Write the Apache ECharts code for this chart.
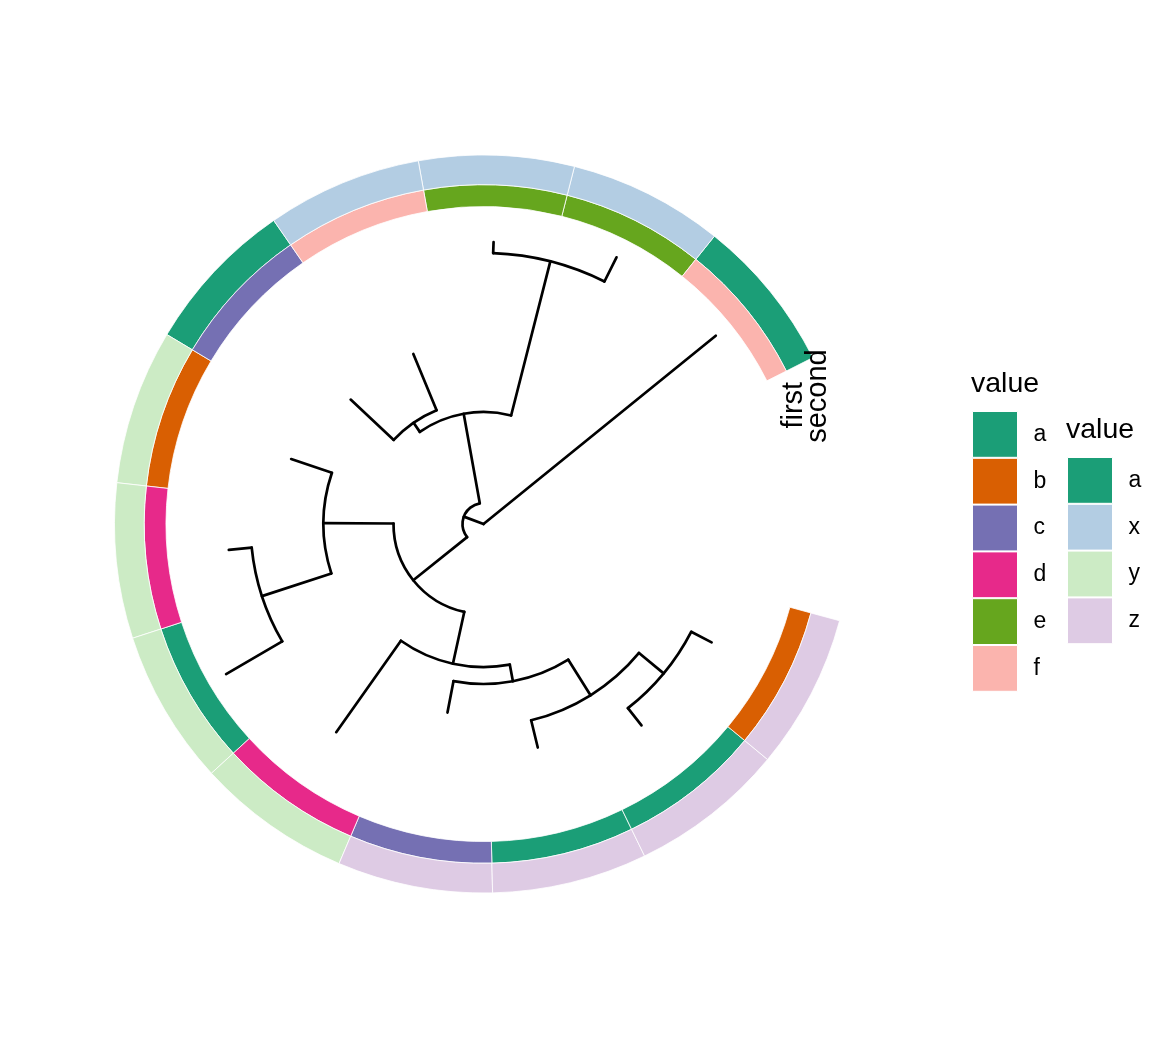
<!DOCTYPE html>
<html>
<head>
<meta charset="utf-8">
<script src="https://cdn.jsdelivr.net/npm/echarts@6/dist/echarts.min.js"></script>
<style>
html, body { margin: 0; padding: 0; background: #fff; }
#chart { width: 1152px; height: 1056px; }
</style>
</head>
<body>
<div id="chart"></div>
<script>
// tree: one entry per edge, parent -> child, with branch length
var edgeParent = ['root','root','n1','n1','n2','n2','n3','n3','n4','n4','n5','n5','n6','n6','n7','n7','n9','n9','n10','n10','n11','n11','n12','n12'];
var edgeChild  = ['n1','t1','n2','n5','n3','n4','t2','t3','t4','t5','n6','n9','t6','n7','t7','t8','t9','n10','t10','n11','t11','n12','t12','t13'];
var edgeLength = [0.21,2.99,0.91,0.69,1.59,0.11,0.27,0.11,0.61,0.59,0.70,0.53,0.43,0.73,0.23,0.65,1.12,0.17,0.32,0.42,0.28,0.32,0.22,0.23];

// tips in plotting order
var tipOrder = ['t1','t2','t3','t4','t5','t6','t7','t8','t9','t10','t11','t12','t13'];

// heatmap columns, one value per tip
var columnNames  = ['first', 'second'];
var firstValues  = ['f','e','e','f','c','b','d','a','d','c','a','a','b'];
var secondValues = ['a','x','x','x','a','y','y','y','y','z','z','z','z'];
var firstLevels  = ['a','b','c','d','e','f'];
var secondLevels = ['a','x','y','z'];

var levelColors = {
    a: '#1B9E77', b: '#D95F02', c: '#7570B3', d: '#E7298A', e: '#66A61E', f: '#FBB4AE',
    x: '#B3CDE3', y: '#CCEBC5', z: '#DECBE4'
};

var FONT = "'Liberation Sans', Arial, Helvetica, sans-serif";
var OPEN_ANGLE = 42;                 // degrees left open on the right
var ringEdges = [3.175, 3.393, 3.69]; // radial bounds of the two heatmap rings
var angleSpan = tipOrder.length / (1 - OPEN_ANGLE / 360);

// layout the tree (rectangular coords -> polar later)
var kids = {}, depth = { root: 0 }, theta = {};
edgeChild.forEach(function (c, i) {
    var p = edgeParent[i];
    (kids[p] = kids[p] || []).push(c);
    depth[c] = depth[p] + edgeLength[i];
});
function getTheta(n) {
    if (theta[n] !== undefined) return theta[n];
    var ti = tipOrder.indexOf(n);
    if (ti >= 0) return (theta[n] = ti + 1);
    var s = 0;
    kids[n].forEach(function (k) { s += getTheta(k); });
    return (theta[n] = s / kids[n].length);
}
getTheta('root');

function screenAngle(cs, pt) {
    return Math.atan2(pt[1] - cs.cy, pt[0] - cs.cx);
}
function pxRadius(cs, pt) {
    return Math.sqrt(Math.pow(pt[0] - cs.cx, 2) + Math.pow(pt[1] - cs.cy, 2));
}
// angles for going clockwise on screen from theta hi to theta lo
function arcAngles(cs, api, r, lo, hi) {
    var a1 = screenAngle(cs, api.coord([r, hi]));
    var a2 = screenAngle(cs, api.coord([r, lo]));
    while (a2 < a1) a2 += Math.PI * 2;
    return [a1, a2];
}

var lineStyle = { stroke: '#000', lineWidth: 2.7, lineCap: 'round', fill: null };

function renderEdge(params, api) {
    var i = params.dataIndex;
    var cs = params.coordSys;
    var c = edgeChild[i], p = edgeParent[i];
    var children = [];
    var a = api.coord([depth[p], theta[c]]);
    var b = api.coord([depth[c], theta[c]]);
    children.push({ type: 'line', shape: { x1: a[0], y1: a[1], x2: b[0], y2: b[1] }, style: lineStyle });
    if (kids[c]) {
        var ths = kids[c].map(function (k) { return theta[k]; });
        var lo = Math.min.apply(null, ths), hi = Math.max.apply(null, ths);
        var r = pxRadius(cs, api.coord([depth[c], lo]));
        var ang = arcAngles(cs, api, depth[c], lo, hi);
        children.push({
            type: 'arc',
            shape: { cx: cs.cx, cy: cs.cy, r: r, startAngle: ang[0], endAngle: ang[1], clockwise: true },
            style: lineStyle
        });
    }
    return { type: 'group', children: children };
}

function renderCell(params, api) {
    var cs = params.coordSys;
    var t = api.value(1), col = api.value(2);
    var r0 = pxRadius(cs, api.coord([ringEdges[col], t]));
    var r1 = pxRadius(cs, api.coord([ringEdges[col + 1], t]));
    var ang = arcAngles(cs, api, ringEdges[col + 1], t - 0.5, t + 0.5);
    return {
        type: 'sector',
        shape: { cx: cs.cx, cy: cs.cy, r0: r0, r: r1, startAngle: ang[0], endAngle: ang[1], clockwise: true },
        style: { fill: api.visual('color'), stroke: '#fff', lineWidth: 0.8 }
    };
}

function renderColName(params, api) {
    var p = api.coord([api.value(0), api.value(1)]);
    return {
        type: 'text', x: p[0], y: p[1], rotation: Math.PI / 2,
        style: {
            text: columnNames[params.dataIndex], fill: '#000', fontSize: 29, fontFamily: FONT,
            align: 'center', verticalAlign: 'middle'
        }
    };
}

var series = [{
    type: 'custom',
    coordinateSystem: 'polar',
    renderItem: renderEdge,
    silent: true,
    data: edgeChild.map(function (c) { return [depth[c], theta[c]]; })
}];

var levels = ['a','b','c','d','e','f','x','y','z'];
var columns = [firstValues, secondValues];
levels.forEach(function (lv) {
    var data = [];
    columns.forEach(function (vals, col) {
        vals.forEach(function (v, ti) {
            if (v === lv) data.push([(ringEdges[col] + ringEdges[col + 1]) / 2, ti + 1, col]);
        });
    });
    series.push({
        type: 'custom',
        name: lv,
        coordinateSystem: 'polar',
        renderItem: renderCell,
        itemStyle: { color: levelColors[lv] },
        silent: true,
        data: data
    });
});

series.push({
    type: 'custom',
    coordinateSystem: 'polar',
    renderItem: renderColName,
    silent: true,
    data: columnNames.map(function (n, col) {
        return [(ringEdges[col] + ringEdges[col + 1]) / 2 + 0.04, 0.26];
    })
});

function legendOpt(levelList, left, top) {
    return {
        data: levelList,
        orient: 'vertical',
        left: left, top: top,
        padding: 0,
        itemWidth: 45, itemHeight: 45.8, itemGap: 0,
        icon: 'rect',
        selectedMode: false,
        itemStyle: { borderColor: '#fff', borderWidth: 1 },
        textStyle: { fontSize: 23, color: '#000', fontFamily: FONT, padding: [0, 0, 0, 11] }
    };
}

var chart = echarts.init(document.getElementById('chart'));
chart.setOption({
    animation: false,
    backgroundColor: '#fff',
    polar: { center: [483.5, 524], radius: 369 },
    radiusAxis: { type: 'value', min: 0, max: ringEdges[2], show: false },
    angleAxis: { type: 'value', min: 0, max: angleSpan, startAngle: 14.57, clockwise: false, show: false },
    legend: [legendOpt(firstLevels, 972, 411), legendOpt(secondLevels, 1067, 457)],
    graphic: [
        { type: 'text', x: 971, y: 384, style: { text: 'value', fontSize: 28.5, fill: '#000', fontFamily: FONT, verticalAlign: 'middle' } },
        { type: 'text', x: 1066, y: 430, style: { text: 'value', fontSize: 28.5, fill: '#000', fontFamily: FONT, verticalAlign: 'middle' } }
    ],
    series: series
});
</script>
</body>
</html>
